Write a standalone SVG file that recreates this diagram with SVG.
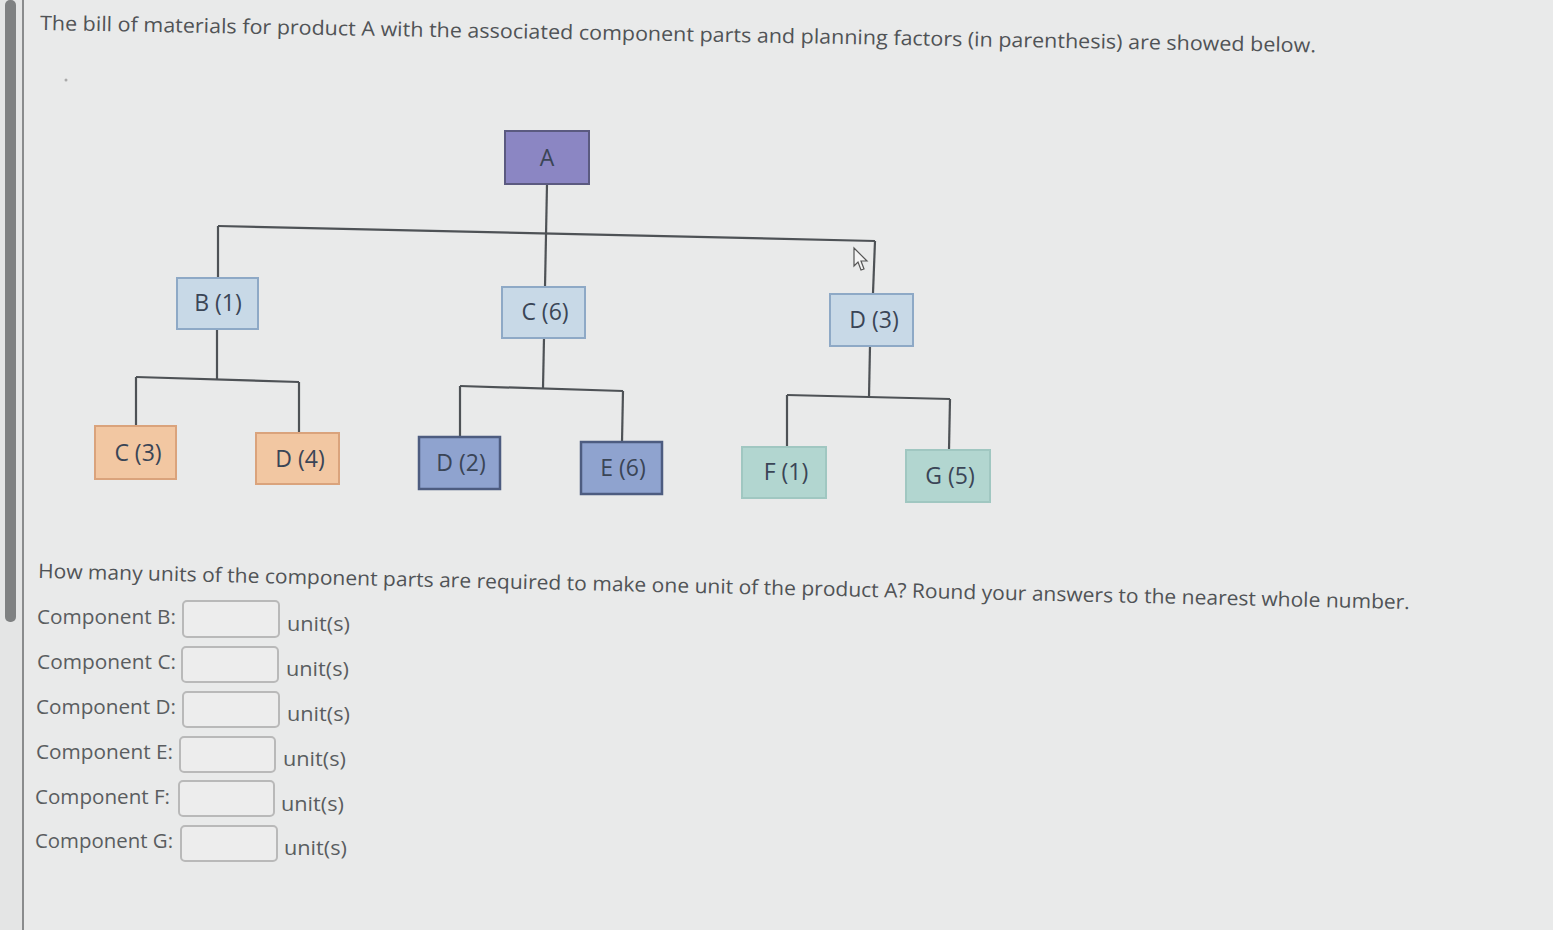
<svg xmlns="http://www.w3.org/2000/svg" width="1553" height="930" viewBox="0 0 1553 930">
<style>
.bg{fill:#e9eaea}
.t{font-family:"Open Sans","DejaVu Sans",sans-serif;fill:#505356}
.lbl{font-family:"Open Sans","DejaVu Sans",sans-serif;font-size:20.5px;fill:#5a5d60}
.nt{font-family:"Open Sans","DejaVu Sans",sans-serif;font-size:23px;fill:#3a4556;text-anchor:middle;dominant-baseline:central}
.conn line{stroke:#4e5256;stroke-width:2.2}
.purple{fill:#8b86c3;stroke:#5b5a80;stroke-width:2}
.lblue{fill:#c8d9e7;stroke:#8ea9c6;stroke-width:2}
.orange{fill:#f2c7a2;stroke:#daa37c;stroke-width:2}
.dblue{fill:#8fa3cf;stroke:#4d5c80;stroke-width:2.5}
.teal{fill:#b2d6d0;stroke:#a0c7c1;stroke-width:2}
.box{fill:#ededed;stroke:#b9b9b9;stroke-width:2}
</style>
<rect class="bg" x="0" y="0" width="1553" height="930"/>
<rect x="0" y="0" width="23" height="930" fill="#e4e5e5"/>
<rect x="5" y="0" width="11" height="622" rx="5" fill="#7f8182"/>
<line x1="23" y1="0" x2="23" y2="930" stroke="#8a8c8d" stroke-width="2"/>
<circle cx="66" cy="80" r="1.5" fill="#aaa"/>

<text class="t" font-size="20" x="40" y="30" transform="rotate(1 40 30)" textLength="1276" lengthAdjust="spacingAndGlyphs">The bill of materials for product A with the associated component parts and planning factors (in parenthesis) are showed below.</text>

<g class="conn" id="connectors">
<line x1="547" y1="184" x2="545" y2="287"/>
<line x1="218" y1="226" x2="875" y2="241"/>
<line x1="218" y1="226" x2="218" y2="278"/>
<line x1="875" y1="241" x2="873" y2="293"/>
<line x1="217" y1="329" x2="217" y2="379"/>
<line x1="136" y1="377" x2="299" y2="382"/>
<line x1="136" y1="377" x2="136" y2="426"/>
<line x1="299" y1="382" x2="299" y2="433"/>
<line x1="544" y1="338" x2="543" y2="388"/>
<line x1="460" y1="386" x2="623" y2="391"/>
<line x1="460" y1="386" x2="460" y2="437"/>
<line x1="623" y1="391" x2="622" y2="442"/>
<line x1="870" y1="346" x2="869" y2="397"/>
<line x1="787" y1="395" x2="950" y2="399"/>
<line x1="787" y1="395" x2="787" y2="447"/>
<line x1="950" y1="399" x2="949" y2="450"/>
</g>

<g id="node-A"><rect class="purple" x="505" y="131" width="84" height="53"/><text class="nt" x="547" y="157">A</text></g>
<g id="node-B1"><rect class="lblue" x="177" y="278" width="81" height="51"/><text class="nt" x="218" y="302">B (1)</text></g>
<g id="node-C6"><rect class="lblue" x="502" y="287" width="83" height="51"/><text class="nt" x="545" y="311">C (6)</text></g>
<g id="node-D3"><rect class="lblue" x="830" y="294" width="83" height="52"/><text class="nt" x="874" y="319">D (3)</text></g>
<g id="node-C3"><rect class="orange" x="95" y="426" width="81" height="53"/><text class="nt" x="138" y="452">C (3)</text></g>
<g id="node-D4"><rect class="orange" x="256" y="433" width="83" height="51"/><text class="nt" x="300" y="458">D (4)</text></g>
<g id="node-D2"><rect class="dblue" x="419" y="437" width="81" height="52"/><text class="nt" x="461" y="462">D (2)</text></g>
<g id="node-E6"><rect class="dblue" x="581" y="442" width="81" height="52"/><text class="nt" x="623" y="467">E (6)</text></g>
<g id="node-F1"><rect class="teal" x="742" y="447" width="84" height="51"/><text class="nt" x="786" y="471">F (1)</text></g>
<g id="node-G5"><rect class="teal" x="906" y="450" width="84" height="52"/><text class="nt" x="950" y="475">G (5)</text></g>

<g id="cursor"><path d="M854 248 L854 266 L858 262 L861 270 L864 269 L861 261 L867 261 Z" fill="#f4f4f4" stroke="#555" stroke-width="1.2"/></g>

<text class="t" font-size="20" x="38" y="578" transform="rotate(1.3 38 578)" textLength="1372" lengthAdjust="spacingAndGlyphs">How many units of the component parts are required to make one unit of the product A? Round your answers to the nearest whole number.</text>

<g id="row-B"><text class="lbl" x="37" y="624" textLength="139" lengthAdjust="spacingAndGlyphs">Component B:</text><rect class="box" x="183" y="601" width="96" height="36" rx="4"/><text class="lbl" x="287" y="631" textLength="63" lengthAdjust="spacingAndGlyphs">unit(s)</text></g>
<g id="row-C"><text class="lbl" x="37" y="669" textLength="139" lengthAdjust="spacingAndGlyphs">Component C:</text><rect class="box" x="182" y="647" width="96" height="35" rx="4"/><text class="lbl" x="286" y="676" textLength="63" lengthAdjust="spacingAndGlyphs">unit(s)</text></g>
<g id="row-D"><text class="lbl" x="36" y="714" textLength="140" lengthAdjust="spacingAndGlyphs">Component D:</text><rect class="box" x="183" y="692" width="96" height="35" rx="4"/><text class="lbl" x="287" y="721" textLength="63" lengthAdjust="spacingAndGlyphs">unit(s)</text></g>
<g id="row-E"><text class="lbl" x="36" y="759" textLength="137" lengthAdjust="spacingAndGlyphs">Component E:</text><rect class="box" x="180" y="737" width="95" height="35" rx="4"/><text class="lbl" x="283" y="766" textLength="63" lengthAdjust="spacingAndGlyphs">unit(s)</text></g>
<g id="row-F"><text class="lbl" x="35" y="804" textLength="135" lengthAdjust="spacingAndGlyphs">Component F:</text><rect class="box" x="179" y="781" width="95" height="35" rx="4"/><text class="lbl" x="281" y="811" textLength="63" lengthAdjust="spacingAndGlyphs">unit(s)</text></g>
<g id="row-G"><text class="lbl" x="35" y="848" textLength="138" lengthAdjust="spacingAndGlyphs">Component G:</text><rect class="box" x="181" y="826" width="96" height="35" rx="4"/><text class="lbl" x="284" y="855" textLength="63" lengthAdjust="spacingAndGlyphs">unit(s)</text></g>
</svg>
